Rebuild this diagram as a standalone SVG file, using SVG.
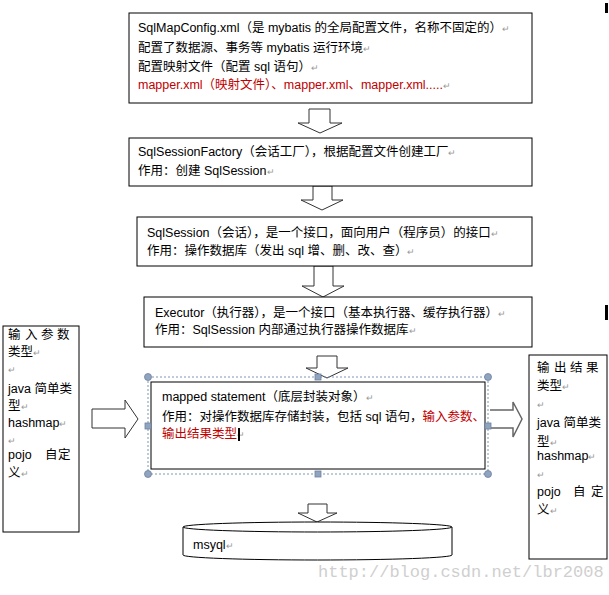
<svg xmlns="http://www.w3.org/2000/svg" width="609" height="595" viewBox="0 0 609 595">
<style>
.box{fill:#fff;stroke:#000;stroke-width:1}
.arr{fill:#fff;stroke:#333;stroke-width:1;stroke-linejoin:miter}
text{font-family:"Liberation Sans","Noto Sans CJK SC",sans-serif;font-size:12.5px;fill:#000}
.red{fill:#c00000}
.pm{fill:#999;font-size:9px}
.wm{font-family:"Liberation Mono","Noto Sans CJK SC",monospace;font-size:17px;fill:#cfcfcf}
.sel{fill:none;stroke:#8096b4;stroke-width:1;stroke-dasharray:2 2}
.hc{fill:#90a4c0;stroke:#6d829e;stroke-width:0.8}
</style>
<rect width="609" height="595" fill="#fff"/>
<rect x="605" y="3" width="3" height="10" fill="#000"/>
<rect x="605" y="305" width="3" height="15" fill="#000"/>

<g id="connectors">
  <path class="arr" d="M309,109 H330 V123 H342 L320,133 L298,123 H309 Z"/>
  <path class="arr" d="M313,186 H332 V200 H343 L322,210 L301,200 H313 Z"/>
  <path class="arr" d="M314,266 H333 V286 H344 L323,297 L302,286 H314 Z"/>
  <path class="arr" d="M317,356 H337 V368 H348 L327,378 L306,368 H317 Z"/>
  <path class="arr" d="M92,409 H125 V400 L138,419 L125,438 V428 H92 Z"/>
  <path class="arr" d="M490,410 H513 V402 L522,419 L513,437 V428 H490" style="stroke:#666;stroke-width:1.5"/>
  <path class="arr" d="M308,504 H327 V513 H337 L317,522 L298,513 H308 Z"/>
</g>

<g id="n1">
  <rect class="box" x="129" y="13" width="403" height="90"/>
  <text x="138" y="32">SqlMapConfig.xml（是 mybatis 的全局配置文件，名称不固定的）<tspan class="pm">↵</tspan></text>
  <text x="138" y="52">配置了数据源、事务等 mybatis 运行环境<tspan class="pm">↵</tspan></text>
  <text x="138" y="71">配置映射文件（配置 sql 语句）<tspan class="pm">↵</tspan></text>
  <text x="138" y="89" class="red">mapper.xml（映射文件）、mapper.xml、mapper.xml.....<tspan class="pm">↵</tspan></text>
</g>

<g id="n2">
  <rect class="box" x="129" y="138" width="403" height="48"/>
  <text x="138" y="156">SqlSessionFactory（会话工厂），根据配置文件创建工厂<tspan class="pm">↵</tspan></text>
  <text x="138" y="175">作用：创建 SqlSession<tspan class="pm">↵</tspan></text>
</g>

<g id="n3">
  <rect class="box" x="137" y="217" width="395" height="49"/>
  <text x="147" y="237">SqlSession（会话），是一个接口，面向用户（程序员）的接口<tspan class="pm">↵</tspan></text>
  <text x="147" y="255">作用：操作数据库（发出 sql 增、删、改、查）<tspan class="pm">↵</tspan></text>
</g>

<g id="n4">
  <rect class="box" x="144" y="297" width="388" height="50"/>
  <text x="155" y="317">Executor（执行器），是一个接口（基本执行器、缓存执行器）<tspan class="pm">↵</tspan></text>
  <text x="155" y="334">作用：SqlSession 内部通过执行器操作数据库<tspan class="pm">↵</tspan></text>
</g>

<g id="n5">
  <rect class="sel" x="148" y="377" width="340" height="97"/>
  <rect class="box" x="151" y="382" width="334" height="87"/>
  <circle class="hc" cx="148" cy="377" r="3.5"/>
  <circle class="hc" cx="488" cy="377" r="3.5"/>
  <circle class="hc" cx="148" cy="474" r="3.5"/>
  <circle class="hc" cx="488" cy="474" r="3.5"/>
  <rect class="hc" x="315" y="374" width="6" height="6"/>
  <rect class="hc" x="315" y="471" width="6" height="6"/>
  <rect class="hc" x="145" y="423" width="6" height="6"/>
  <rect class="hc" x="485" y="423" width="6" height="6"/>
  <text x="162" y="401">mapped statement（底层封装对象）<tspan class="pm">↵</tspan></text>
  <text x="162" y="421">作用：对操作数据库存储封装，包括 sql 语句，<tspan class="red">输入参数、</tspan></text>
  <text x="162" y="438"><tspan class="red">输出结果类型</tspan><tspan class="pm">↵</tspan></text>
  <rect x="238" y="428" width="2" height="13" fill="#000"/>
</g>

<g id="n6">
  <rect class="box" x="3" y="326" width="76" height="206"/>
  <text x="8 25 41 57" y="339">输入参数</text>
  <text x="8" y="356">类型<tspan class="pm">↵</tspan></text>
  <text x="8" y="373" class="pm">↵</text>
  <text x="8" y="393">java 简单类</text>
  <text x="8" y="410">型<tspan class="pm">↵</tspan></text>
  <text x="8" y="427">hashmap<tspan class="pm">↵</tspan></text>
  <text x="8" y="444" class="pm">↵</text>
  <text x="8" y="459">pojo</text>
  <text x="45 58" y="459">自定</text>
  <text x="8" y="477">义<tspan class="pm">↵</tspan></text>
</g>

<g id="n7">
  <rect class="box" x="529" y="355" width="78" height="204"/>
  <text x="537 554 570 586" y="372">输出结果</text>
  <text x="537" y="390">类型<tspan class="pm">↵</tspan></text>
  <text x="537" y="408" class="pm">↵</text>
  <text x="537" y="427">java 简单类</text>
  <text x="537" y="446">型<tspan class="pm">↵</tspan></text>
  <text x="537" y="460">hashmap<tspan class="pm">↵</tspan></text>
  <text x="537" y="478" class="pm">↵</text>
  <text x="537" y="496">pojo</text>
  <text x="573 591" y="496">自定</text>
  <text x="537" y="514">义<tspan class="pm">↵</tspan></text>
</g>

<g id="n8">
  <path class="box" d="M183,527 V555 A134.5,5 0 0 0 452,555 V527"/>
  <ellipse class="box" cx="317.5" cy="527" rx="134.5" ry="5"/>
  <text x="193" y="549">msyql<tspan class="pm">↵</tspan></text>
</g>

<text class="wm" x="318" y="577">http://blog.csdn.net/lbr2008</text>
</svg>
